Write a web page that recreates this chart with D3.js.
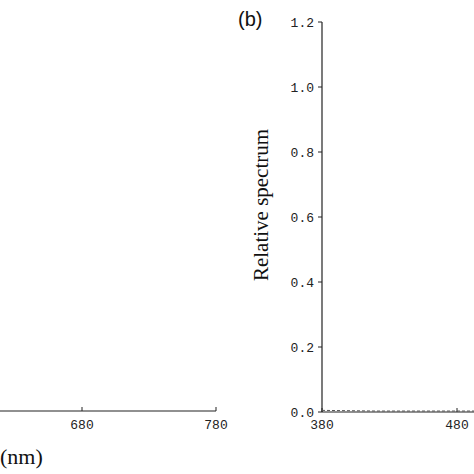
<!DOCTYPE html><html><head><meta charset="utf-8"><script src="https://cdn.jsdelivr.net/npm/d3@7"></script>
<style>body{margin:0;background:#fff}</style></head><body><svg id="c" width="474" height="474"></svg>
<script>
const leftTicks=[680,780];
const rightXTicks=[380,480];
const yTicks=[0,0.2,0.4,0.6,0.8,1.0,1.2];
const waveB=[380,400,420,440,460,480,500];
const specB=[0.005,0.004,0.003,0.003,0.003,0.003,0.003];
const svg=d3.select("#c");
const mono="'Liberation Mono','DejaVu Sans Mono',monospace";
const xL=d3.scaleLinear().domain([580,780]).range([-52,216]);
const gL=svg.append("g").attr("transform","translate(0,411)");
gL.append("line").attr("x1",0).attr("x2",216).attr("stroke","#222").attr("stroke-width",1.2);
gL.selectAll("g").data(leftTicks).join("g").attr("transform",d=>`translate(${xL(d)},0)`).call(g=>{
 g.append("line").attr("y2",-4).attr("stroke","#222");
 g.append("text").attr("y",18).attr("text-anchor","middle").attr("font-family",mono).attr("font-size",13).attr("fill","#222").text(d=>d);});
svg.append("text").attr("x",0).attr("y",464).attr("font-family","'Liberation Serif',serif").attr("font-size",22).attr("fill","#111").text("(nm)");
const x=d3.scaleLinear().domain([380,480]).range([322,457]);
const y=d3.scaleLinear().domain([0,1.2]).range([412,22]);
svg.append("line").attr("x1",322).attr("x2",322).attr("y1",22).attr("y2",412).attr("stroke","#222").attr("stroke-width",1.2);
svg.append("line").attr("x1",322).attr("x2",474).attr("y1",412).attr("y2",412).attr("stroke","#222").attr("stroke-width",1.2);
svg.selectAll(".yt").data(yTicks).join("g").attr("transform",d=>`translate(322,${y(d)})`).call(g=>{
 g.append("line").attr("x2",-4).attr("stroke","#222");
 g.append("text").attr("x",-8).attr("dy","0.35em").attr("text-anchor","end").attr("font-family",mono).attr("font-size",13).attr("fill","#222").text(d=>d.toFixed(1));});
svg.selectAll(".xt").data(rightXTicks).join("g").attr("transform",d=>`translate(${x(d)},412)`).call(g=>{
 g.append("line").attr("y2",-4).attr("stroke","#222");
 g.append("text").attr("y",17).attr("text-anchor","middle").attr("font-family",mono).attr("font-size",13).attr("fill","#222").text(d=>d);});
svg.append("path").datum(waveB.map((w,i)=>[w,specB[i]])).attr("fill","none").attr("stroke","#555").attr("stroke-dasharray","3,2")
 .attr("d",d3.line().x(d=>x(d[0])).y(d=>y(d[1])));
svg.append("text").attr("transform","translate(268,205) rotate(-90)").attr("text-anchor","middle").attr("font-family","'Liberation Serif',serif").attr("font-size",21).attr("fill","#111").text("Relative spectrum");
svg.append("text").attr("x",238).attr("y",26).attr("font-family","'Liberation Sans',sans-serif").attr("font-size",20).attr("fill","#111").text("(b)");
</script></body></html>
